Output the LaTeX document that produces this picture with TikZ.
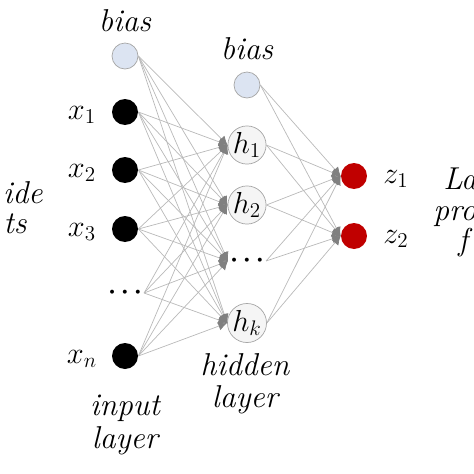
\documentclass[tikz,border=0pt]{standalone}
\usetikzlibrary{arrows.meta}
\definecolor{biasblue}{HTML}{DCE4F2}
\definecolor{outred}{HTML}{C00000}
\begin{document}
\begin{tikzpicture}[x=0.02cm,y=-0.02cm,>={Latex[length=5pt,width=5pt,color=gray]},
    font=\fontsize{18}{21}\selectfont\itshape,
    unit/.style={circle,minimum size=0.52cm,inner sep=0pt},
    biasunit/.style={unit,draw=gray!70,fill=biasblue},
    inunit/.style={unit,fill=black},
    hidunit/.style={unit,draw=gray!70,fill=gray!8},
    outunit/.style={unit,fill=outred},
    dotsnode/.style={inner sep=1pt,font=\fontsize{15}{18}\selectfont\boldmath},
    lbl/.style={inner sep=0pt},
    side/.style={inner sep=0pt},
    link/.style={->,draw=gray!55,line width=0.4pt}]
    \useasboundingbox (0,0) rectangle (474,474);
    % input layer
    \node[lbl] (IB) at (125,21) {bias};
    \node[biasunit] (B1) at (125,56) {};
    \node[inunit] (X1) at (125,112) {};
    \node[inunit] (X2) at (125,170) {};
    \node[inunit] (X3) at (125,229) {};
    \node[dotsnode] (XD) at (125,293) {$\cdots$};
    \node[inunit] (XN) at (125,356) {};
    \node[lbl] (LX1) at (82,115) {$x_1$};
    \node[lbl] (LX2) at (82,173) {$x_2$};
    \node[lbl] (LX3) at (82,232) {$x_3$};
    \node[lbl] (LXN) at (82,359) {$x_n$};
    \node[lbl,anchor=base] (IL1) at (125,415) {input};
    \node[lbl,anchor=base] (IL2) at (125,448) {layer};
    % hidden layer
    \node[lbl] (HB) at (247,49) {bias};
    \node[biasunit] (B2) at (247,85) {};
    \node[hidunit] (H1) at (247,145) {$h_1$};
    \node[hidunit] (H2) at (247,205) {$h_2$};
    \node[dotsnode] (HD) at (247,261) {$\cdots$};
    \node[hidunit] (HK) at (247,323) {$h_k$};
    \node[lbl,anchor=base] (HL1) at (245,375) {hidden};
    \node[lbl,anchor=base] (HL2) at (245,407) {layer};
    % output layer
    \node[outunit] (Z1) at (354,176) {};
    \node[outunit] (Z2) at (354,236) {};
    \node[lbl] (LZ1) at (396,179) {$z_1$};
    \node[lbl] (LZ2) at (396,239) {$z_2$};
    % cut-off side texts
    \node[side,anchor=base east] (SL1) at (43,203) {ide};
    \node[side,anchor=base east] (SL2) at (27,233) {ts};
    \node[side,anchor=base west] (SR1) at (443,189) {Lar};
    \node[side,anchor=base west] (SR2) at (433,220) {pro};
    \node[side,anchor=base west] (SR3) at (458,250) {f};
    % connections
    \foreach \a in {B1,X1,X2,X3,XD,XN}
        \foreach \b in {H1,H2,HD,HK}
            \draw[link] (\a.east) -- (\b.west);
    \foreach \a in {B2,H1,H2,HD,HK}
        \foreach \b in {Z1,Z2}
            \draw[link] (\a.east) -- (\b.west);
\end{tikzpicture}
\end{document}
